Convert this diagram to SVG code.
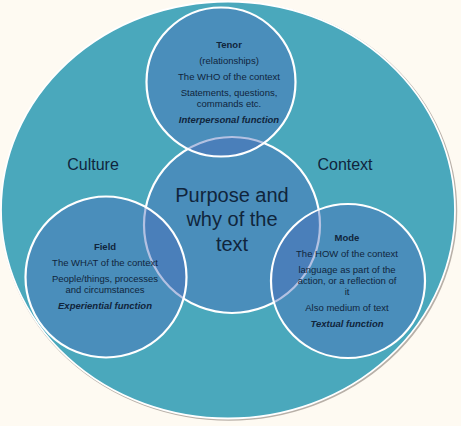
<svg xmlns="http://www.w3.org/2000/svg" width="461" height="426" viewBox="0 0 461 426">
<style>
.t{font-family:"Liberation Sans",Arial,sans-serif;fill:#10253c;text-anchor:middle}
.s{font-size:9.5px}
.b{font-weight:bold}
.bi{font-weight:bold;font-style:italic}
.inner{fill:#4a6cba;fill-opacity:0.42;stroke:#ffffff;stroke-width:2.2}
</style>
<rect width="461" height="426" fill="#fefaf2"/>
<g id="outer">
<ellipse cx="229" cy="211" rx="227" ry="208.5" fill="none" stroke="#b8b0a8" stroke-width="2.5"/>
<ellipse cx="228" cy="210" rx="227" ry="208.5" fill="#4aa8bc" stroke="#ffffff" stroke-width="1.8"/>
<text class="t" x="93" y="170" font-size="16">Culture</text>
<text class="t" x="345" y="170" font-size="16">Context</text>
</g>
<g id="purpose">
<circle class="inner" cx="232" cy="225" r="88"/>
<text class="t" x="232" y="202" font-size="20">Purpose and</text>
<text class="t" x="232" y="226" font-size="20">why of the</text>
<text class="t" x="232" y="251" font-size="20">text</text>
</g>
<g id="tenor">
<circle class="inner" cx="221" cy="82" r="74.5"/>
<text class="t s b" x="229" y="48">Tenor</text>
<text class="t s" x="229" y="64">(relationships)</text>
<text class="t s" x="229" y="80">The WHO of the context</text>
<text class="t s" x="229" y="96">Statements, questions,</text>
<text class="t s" x="229" y="107">commands etc.</text>
<text class="t s bi" x="229" y="123">Interpersonal function</text>
</g>
<g id="field">
<circle class="inner" cx="106" cy="277" r="80.5"/>
<text class="t s b" x="105" y="250">Field</text>
<text class="t s" x="105" y="266">The WHAT of the context</text>
<text class="t s" x="105" y="282">People/things, processes</text>
<text class="t s" x="105" y="293">and circumstances</text>
<text class="t s bi" x="105" y="309">Experiential function</text>
</g>
<g id="mode">
<circle class="inner" cx="348" cy="281" r="77"/>
<text class="t s b" x="347" y="241">Mode</text>
<text class="t s" x="347" y="257">The HOW of the context</text>
<text class="t s" x="347" y="273">language as part of the</text>
<text class="t s" x="347" y="284">action, or a reflection of</text>
<text class="t s" x="347" y="295">it</text>
<text class="t s" x="347" y="311">Also medium of text</text>
<text class="t s bi" x="347" y="327">Textual function</text>
</g>
<g id="connectors"></g>
</svg>
